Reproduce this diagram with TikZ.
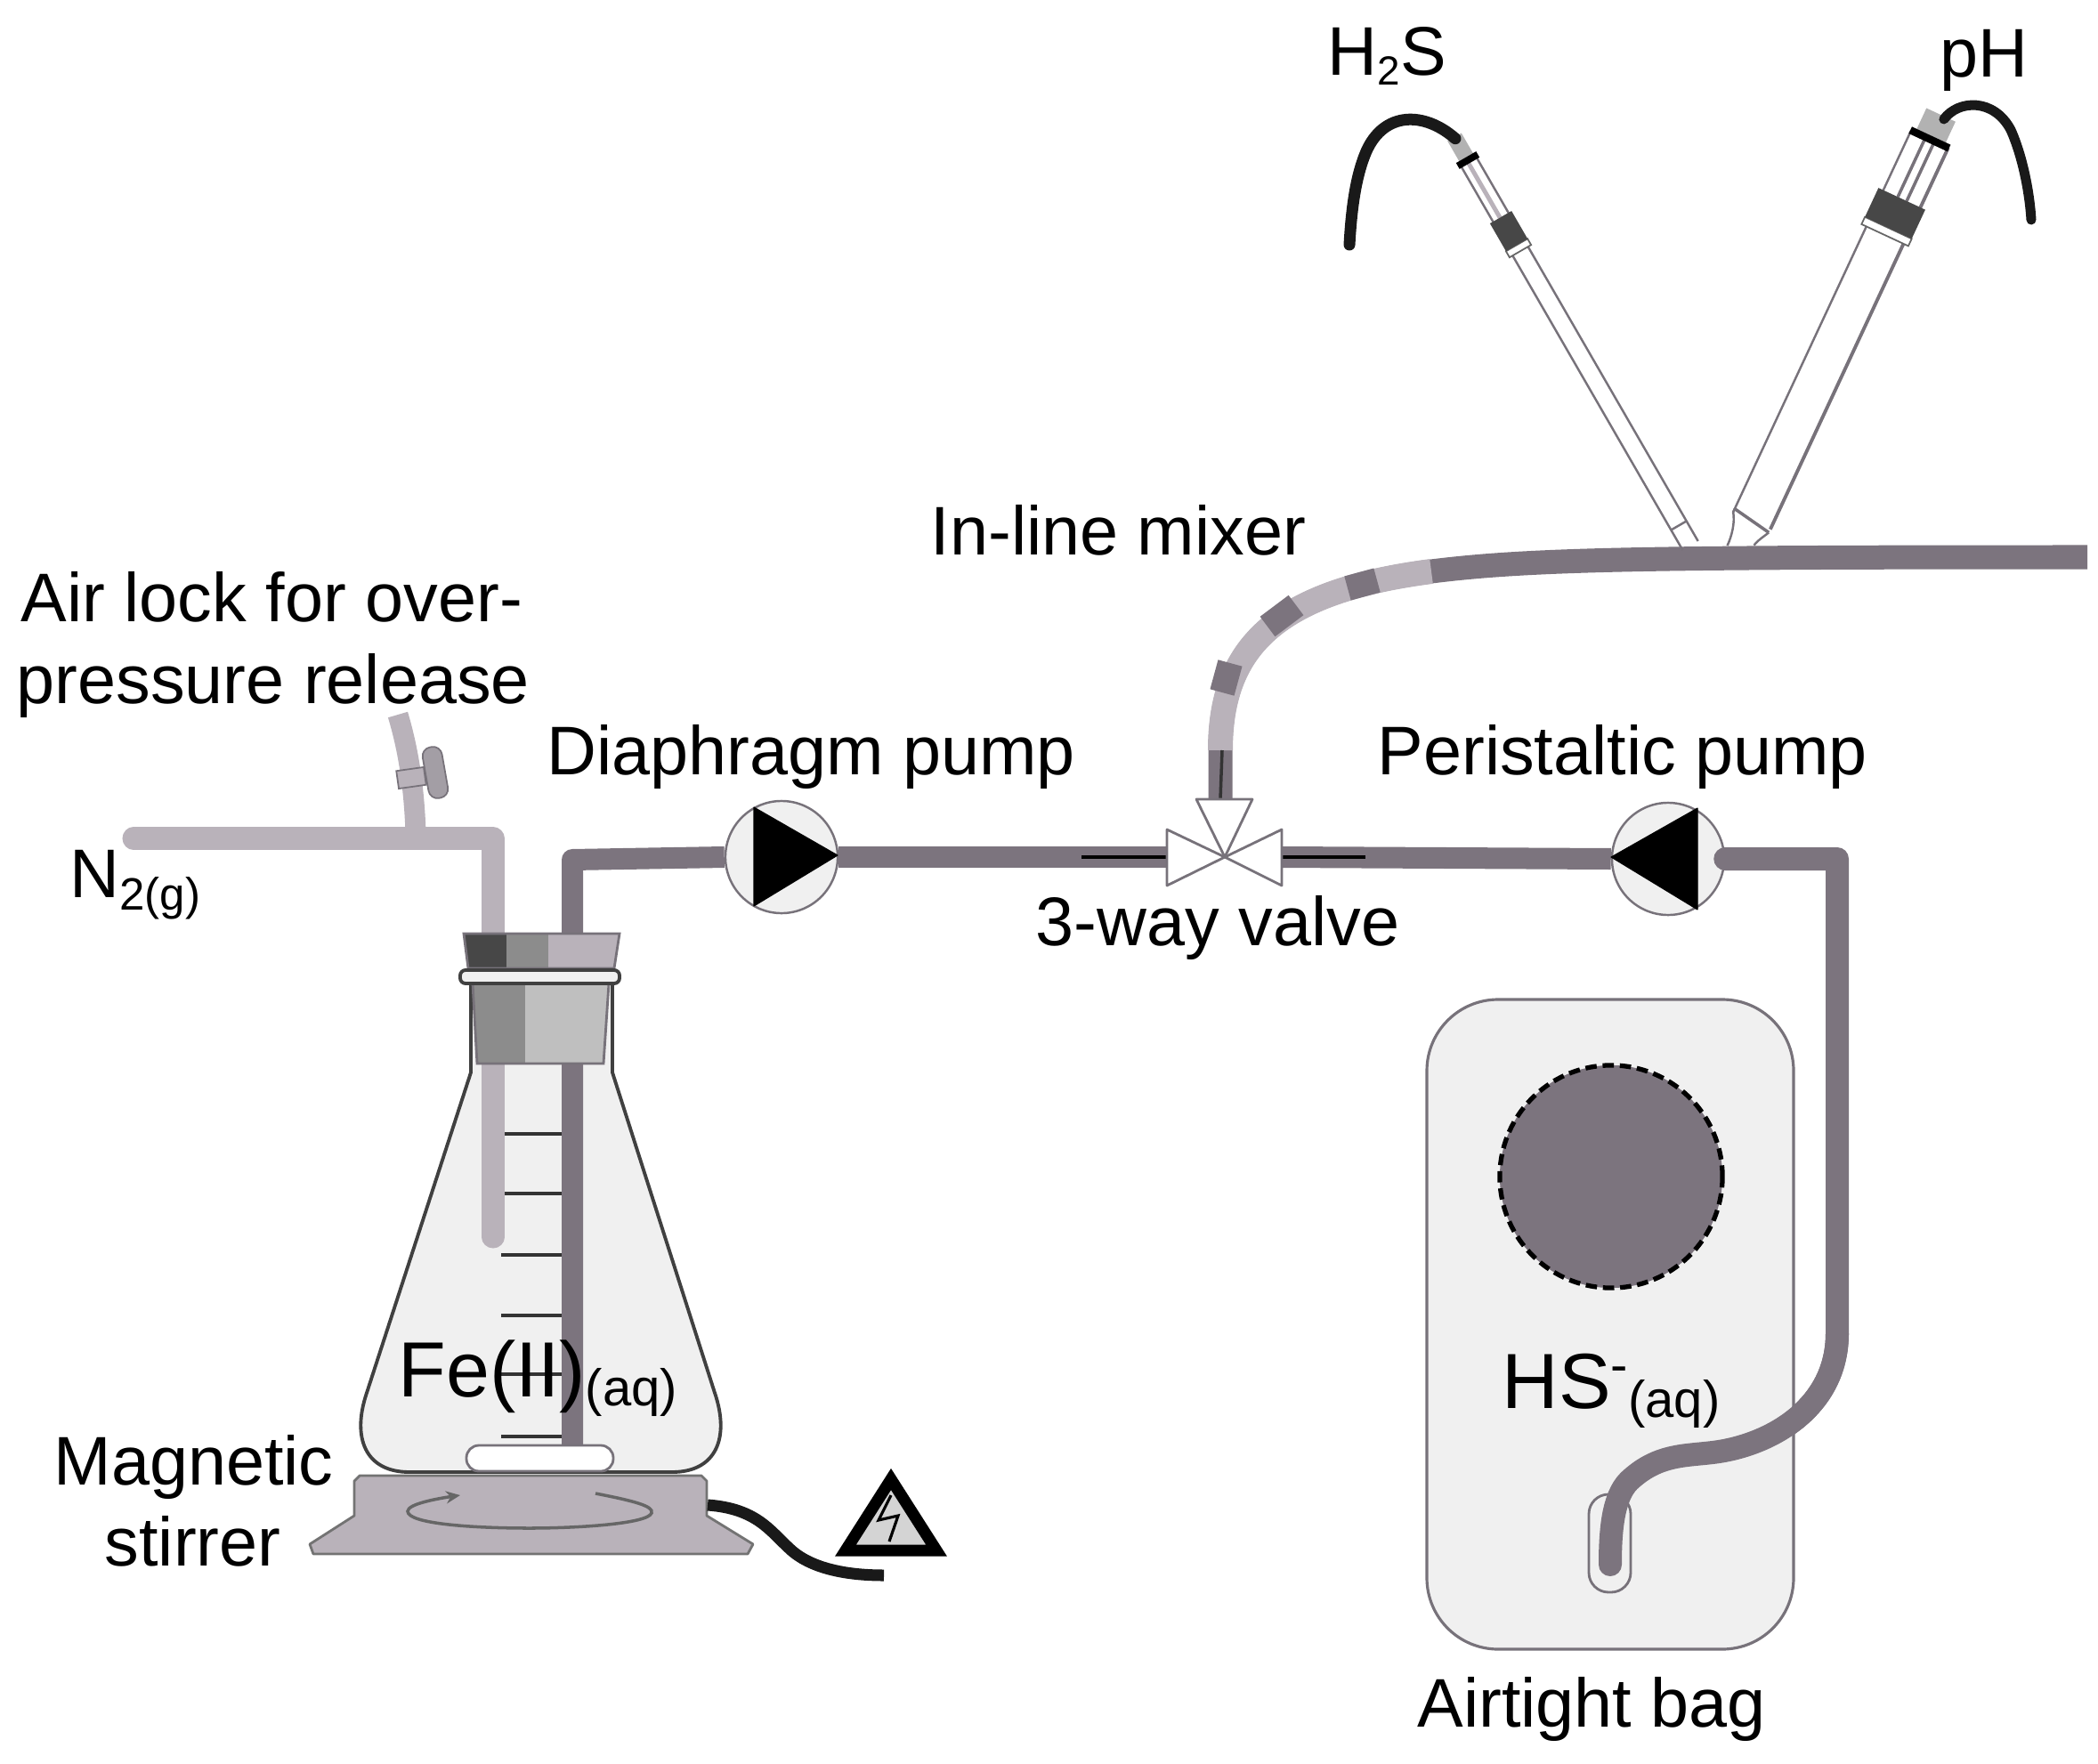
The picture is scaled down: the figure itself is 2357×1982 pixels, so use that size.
\documentclass[tikz,border=0pt]{standalone}
\usepackage{fontspec}
\setmainfont{Liberation Sans}
\usetikzlibrary{shapes,arrows,arrows.meta,positioning,calc}

\definecolor{tubeDark}{HTML}{7C747E}
\definecolor{tubeLight}{HTML}{B9B2BA}
\definecolor{flaskFill}{HTML}{F0F0F0}
\definecolor{lineGrey}{HTML}{77727A}

\newcommand{\lowtxt}[2]{\raisebox{#1}{\fontsize{16.5}{18}\selectfont #2}}

\begin{document}
\begin{tikzpicture}[x=0.01cm, y=-0.01cm,
    labeltext/.style={anchor=base west, inner sep=0pt, font=\fontsize{22}{26}\selectfont},
    bigtext/.style={anchor=base west, inner sep=0pt, font=\fontsize{25}{28}\selectfont},
    tube/.style={line width=0.24cm, color=tubeDark, line join=round},
    tubelight/.style={line width=0.25cm, color=tubeLight, line join=round},
    pumpcircle/.style={draw=lineGrey, fill=flaskFill, circle, inner sep=0pt, minimum size=1.26cm, line width=0.7pt},
    pumptip/.style={fill=black, draw=black, line width=0.3pt, line join=round},
    valvepart/.style={draw=lineGrey, fill=white, line width=0.8pt, line join=round},
    cable/.style={line width=0.13cm, color=black!90, line cap=round},
    probeline/.style={draw=lineGrey, line width=0.7pt},
    tick/.style={draw=black!80, line width=0.9pt}]

    \useasboundingbox (0,0) rectangle (2357,1982);

    % Flask
    \draw [fill=flaskFill, draw=black!75, line width=1.1pt, line join=round]
        (529,1100) -- (529,1205) -- (412,1565) .. controls (395,1615) and (410,1654) .. (460,1654)
        -- (755,1654) .. controls (805,1654) and (820,1615) .. (803,1565) -- (688,1205) -- (688,1100) -- cycle;

    \foreach \ytick in {1274,1341,1410,1478,1544,1614} {
        \draw [tick] (563,\ytick) -- (643,\ytick);
    }

    % Air lock
    \draw [tubelight, line width=0.23cm] (467,935) .. controls (465,880) and (458,840) .. (447,803);
    \node [draw=lineGrey, fill=tubeLight, line width=0.5pt, inner sep=0pt, minimum width=0.31cm, minimum height=0.2cm, rotate=8] (airlock_valve) at (462,874) {};
    \node [draw=lineGrey, fill=tubeDark!70, line width=0.5pt, inner sep=0pt, rounded corners=0.1cm, minimum width=0.22cm, minimum height=0.58cm, rotate=10] (airlock_knob) at (489,868) {};

    % Pumps and valve
    \node [pumpcircle] (pump_diaphragm) at (878,963) {};
    \node [pumpcircle] (pump_peristaltic) at (1874,965) {};
    \coordinate (valve_3way) at (1376,963);
    \coordinate (valve_left) at (1311,963);
    \coordinate (valve_right) at (1440,963);
    \coordinate (valve_top) at (1371,898);

    % Tubes
    \coordinate (inlet_start) at (150,942);
    \draw [tubelight, line cap=round] (inlet_start) -- (554,942) -- (554,1390);
    \draw [tube] (pump_diaphragm.west) -- (643,966) -- (643,1624);
    \draw [tube] (pump_diaphragm.east) -- (valve_left);
    \draw [tube] (valve_right) -- (pump_peristaltic.west);
    \draw [tube, line cap=round, line width=0.26cm] (pump_peristaltic.east) -- (2064,965) -- (2064,1498)
        .. controls (2064,1575) and (2000,1618) .. (1937,1630)
        .. controls (1900,1637) and (1866,1630) .. (1830,1664)
        .. controls (1812,1682) and (1809,1720) .. (1809,1758);
    \draw [black, line width=1pt] (1215,963) -- (valve_left);
    \draw [black, line width=1pt] (valve_right) -- (1534,963);

    % In-line mixer
    \draw [tube, line width=0.27cm] (valve_top) -- (1371,843) .. controls (1371,730) and (1430,665) .. (1608,642)
        .. controls (1720,628) and (1850,626) .. (2345,626);
    \draw [tubelight, line width=0.28cm] (1371,843) .. controls (1371,730) and (1430,665) .. (1608,642);
    \draw [tube, line width=0.28cm] (1382,745) -- (1373,778);
    \draw [tube, line width=0.28cm] (1456,680) -- (1424,704);
    \draw [tube, line width=0.28cm] (1547,652) -- (1514,661);
    \draw [black!80, line width=1pt] (1373,843) -- (valve_top);

    % Valve
    \draw [valvepart] (valve_left) ++(0,-31) -- (valve_3way) -- (1311,995) -- cycle;
    \draw [valvepart] (valve_right) ++(0,-31) -- (valve_3way) -- (1440,995) -- cycle;
    \draw [valvepart] (1344,898) -- (1407,898) -- (valve_3way) -- cycle;

    % Pump triangles
    \draw [pumptip] (847,907) -- (941,961) -- (847,1018) -- cycle;
    \draw [pumptip] (1907,908) -- (1810,963) -- (1907,1022) -- cycle;

    % Stopper
    \fill [black!72] (521,1049) -- (569,1049) -- (569,1088) -- (526,1088) -- cycle;
    \fill [black!45] (569,1049) -- (616,1049) -- (616,1088) -- (569,1088) -- cycle;
    \fill [tubeLight] (616,1049) -- (696,1049) -- (690,1088) -- (616,1088) -- cycle;
    \draw [lineGrey, line width=0.8pt] (521,1049) -- (696,1049) -- (690,1088) -- (526,1088) -- cycle;
    \fill [black!45] (531,1105) -- (590,1105) -- (590,1195) -- (536,1195) -- cycle;
    \fill [black!25] (590,1105) -- (684,1105) -- (678,1195) -- (590,1195) -- cycle;
    \draw [lineGrey, line width=0.8pt] (531,1105) -- (684,1105) -- (678,1195) -- (536,1195) -- cycle;
    \draw [fill=flaskFill, draw=black!75, line width=1.1pt, rounded corners=0.06cm] (517,1090) rectangle (696,1105);

    % Stir bar
    \draw [fill=white, draw=lineGrey, line width=0.8pt, rounded corners=0.14cm] (524,1624) rectangle (689,1653);

    % Magnetic stirrer
    \draw [fill=tubeLight, draw=black!55, line width=0.8pt, line join=round]
        (398,1664) -- (398,1703) -- (348,1735) -- (352,1746) -- (840,1746) -- (846,1735) -- (794,1703) -- (794,1664)
        -- (788,1658) -- (404,1658) -- cycle;
    \draw [draw=black!60, line width=1pt, -{Stealth[length=0.16cm,width=0.14cm]}]
        (669,1678) .. controls (710,1686) and (735,1692) .. (732,1700)
        .. controls (728,1712) and (650,1717) .. (595,1717)
        .. controls (530,1717) and (458,1712) .. (458,1698)
        .. controls (458,1690) and (490,1684) .. (517,1680);
    \coordinate (stirrer_plug) at (795,1691);
    \draw [cable, line cap=butt] (stirrer_plug) .. controls (850,1695) and (865,1720) .. (887,1740)
        .. controls (910,1762) and (950,1770) .. (993,1770);

    % Warning sign
    \draw [fill=black!17, draw=black, line width=0.13cm, line join=miter] (1001,1662) -- (1052,1742) -- (950,1742) -- cycle;
    \draw [black, line width=0.9pt, line join=miter] (1001,1680) -- (987,1708) -- (1009,1703) -- (999,1732);

    % Airtight bag
    \draw [fill=flaskFill, draw=lineGrey, line width=0.9pt, rounded corners=0.8cm] (1603,1123) rectangle (2015,1853);
    \node [circle, draw=black, fill=tubeDark, dash pattern=on 3.6pt off 1.9pt, line width=1.5pt, inner sep=0pt, minimum size=2.5cm] (bag_disc) at (1810,1322) {};
    \draw [fill=flaskFill, draw=lineGrey, line width=0.8pt, rounded corners=0.22cm] (1785,1679) rectangle (1832,1789);
    \draw [tube, line cap=round, line width=0.26cm] (2064,1498)
        .. controls (2064,1575) and (2000,1618) .. (1937,1630)
        .. controls (1900,1637) and (1866,1630) .. (1830,1664)
        .. controls (1812,1682) and (1809,1720) .. (1809,1758);

    % H2S probe
    \begin{scope}[shift={(1899,613)}, rotate=30]
        \draw [probeline] (-10,0) -- (-10,-500);
        \draw [probeline] (10,0) -- (10,-500);
        \draw [probeline] (-10,-26) -- (10,-26);
        \draw [tubeLight, line width=1.4pt] (-1,-500) -- (-1,-426);
        \draw [draw=black!60, fill=white, line width=0.5pt] (-14,-390) rectangle (14,-382);
        \fill [black!72] (-14,-426) rectangle (14,-390);
        \fill [black!30] (-9,-500) rectangle (9,-530);
        \draw [black, line width=2.2pt] (-13,-500) -- (13,-500);
        \coordinate (probe_H2S_top) at (0,-528);
    \end{scope}

    % pH probe
    \begin{scope}[shift={(1968,585)}, rotate=-25]
        \draw [probeline] (-23,0) -- (-23,-473);
        \draw [probeline, line width=1.1pt] (23,0) -- (23,-473);
        \draw [probeline] (-23,-4) -- (-23,0) .. controls (-16,10) and (-13,25) .. (-13,37);
        \draw [probeline] (23,4) .. controls (20,10) and (15,18) .. (14,24);
        \draw [probeline, line width=1pt] (-23,-4) -- (23,4);
        \draw [probeline, line width=1pt] (-5,-473) -- (-5,-399);
        \draw [probeline, line width=1pt] (6,-473) -- (6,-399);
        \draw [draw=black!60, fill=white, line width=0.5pt] (-29,-363) rectangle (29,-354);
        \fill [black!72] (-29,-399) rectangle (29,-363);
        \fill [black!30] (-18,-473) rectangle (18,-503);
        \draw [black, line width=2.4pt] (-24,-473) -- (24,-473);
        \coordinate (probe_pH_top) at (5,-500);
    \end{scope}

    % Probe cables
    \draw [cable] (probe_H2S_top) .. controls (1600,125) and (1555,125) .. (1535,170) .. controls (1522,200) and (1518,240) .. (1516,275);
    \draw [cable, line width=0.11cm] (probe_pH_top) .. controls (2200,112) and (2240,110) .. (2259,146) .. controls (2272,175) and (2280,215) .. (2282,247);

    % Labels
    \node [labeltext] (label_H2S) at (1491,85) {H\lowtxt{-3pt}{\fontsize{13}{15}\selectfont 2}S};
    \node [labeltext] (label_pH) at (2179,87) {pH};
    \node [labeltext] (label_mixer) at (1045,623) {In-line mixer};
    \node [labeltext] (label_airlock) at (23,698) {Air lock for over-};
    \node [labeltext] (label_release) at (18,790) {pressure release};
    \node [labeltext] (label_diaphragm) at (614,870) {Diaphragm pump};
    \node [labeltext] (label_peristaltic) at (1547,870) {Peristaltic pump};
    \node [labeltext] (label_N2) at (78,1008) {N\lowtxt{-4pt}{\fontsize{14.5}{16}\selectfont 2(g)}};
    \node [labeltext] (label_valve) at (1163,1062) {3-way valve};
    \node [labeltext] (label_magnetic) at (60,1668) {Magnetic};
    \node [labeltext] (label_stirrer) at (117,1759) {stirrer};
    \node [labeltext] (label_bag) at (1592,1940) {Airtight bag};
    \node [bigtext] (label_Fe) at (447,1569) {Fe(II)\lowtxt{-3pt}{(aq)}};
    \node [bigtext] (label_HS) at (1687,1582) {HS\lowtxt{8pt}{-}\lowtxt{-3pt}{(aq)}};

\end{tikzpicture}
\end{document}
